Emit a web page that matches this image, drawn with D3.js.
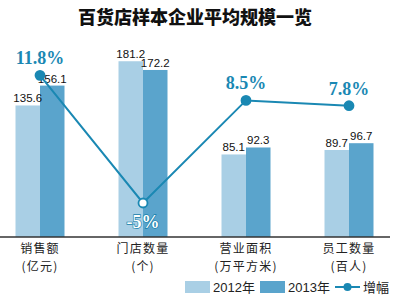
<!DOCTYPE html>
<meta charset="utf-8">
<head>
<script src="https://cdn.jsdelivr.net/npm/d3@7"></script>
<style>
body { margin: 0; background: #fff; }
svg { display: block; }
.val { font: 11.5px "Liberation Sans", Arial, sans-serif; fill: #111; }
.pct { font: bold 18px "Liberation Serif", "Times New Roman", serif; fill: #1a8ab5; }
.cat { font: 12px "Noto Sans CJK SC", sans-serif; fill: #222; letter-spacing: 1.2px; }
.leg { font: 13px "Liberation Sans", "Noto Sans CJK SC", sans-serif; fill: #222; }
</style>
</head>
<body>
<script>
// chart values
var categories = ["销售额", "门店数量", "营业面积", "员工数量"];
var units = ["(亿元)", "(个)", "(万平方米)", "(百人)"];
var years = ["2012年", "2013年"];
var v2012 = [135.6, 181.2, 85.1, 89.7];
var v2013 = [156.1, 172.2, 92.3, 96.7];
var growth = [11.8, -5, 8.5, 7.8];
var growthLabels = ["11.8%", "-5%", "8.5%", "7.8%"];

var width = 394, height = 299;
var colors = {"2012年": "#a9cfe5", "2013年": "#5aa4cc"};
var lineColor = "#1a88b3";

var svg = d3.select("body").append("svg")
    .attr("width", width)
    .attr("height", height);

var x = d3.scalePoint().domain(categories).range([40, 349]);
var xs = d3.scaleBand().domain(years).range([-24.5, 24.5]);
var y = d3.scaleLinear().domain([0, 200]).range([237, 43]);
var y2 = d3.scaleLinear().domain([0, 10]).range([165, 89]);

// title
svg.append("text")
    .attr("x", 195).attr("y", 24)
    .attr("text-anchor", "middle")
    .style("font", "900 18px 'Noto Sans CJK SC', sans-serif")
    .style("fill", "#111")
    .text("百货店样本企业平均规模一览");

var rows = categories.map(function(c, i) {
  return {cat: c, unit: units[i], vals: [{year: years[0], v: v2012[i]}, {year: years[1], v: v2013[i]}],
          g: growth[i], gl: growthLabels[i]};
});

var groups = svg.selectAll("g.grp")
  .data(rows)
  .enter().append("g")
    .attr("class", "grp")
    .attr("transform", function(d) { return "translate(" + x(d.cat) + ",0)"; });

groups.selectAll("rect")
  .data(function(d) { return d.vals; })
  .enter().append("rect")
    .attr("x", function(d) { return xs(d.year); })
    .attr("width", xs.bandwidth())
    .attr("y", function(d) { return y(d.v); })
    .attr("height", function(d) { return y(0) - y(d.v); })
    .attr("fill", function(d) { return colors[d.year]; });

// axis baseline
svg.append("line")
    .attr("x1", 0).attr("x2", 390)
    .attr("y1", y(0)).attr("y2", y(0))
    .attr("stroke", "#333").attr("stroke-width", 1.6);

// category labels
groups.append("text")
    .attr("class", "cat")
    .attr("text-anchor", "middle")
    .attr("y", 253)
    .text(function(d) { return d.cat; });
groups.append("text")
    .attr("class", "cat")
    .attr("text-anchor", "middle")
    .attr("y", 271)
    .text(function(d) { return d.unit; });

// growth line
var line = d3.line()
    .x(function(d) { return x(d.cat); })
    .y(function(d) { return y2(d.g); });

svg.append("path")
    .datum(rows)
    .attr("d", line)
    .attr("fill", "none")
    .attr("stroke", lineColor)
    .attr("stroke-width", 2);

// value labels (on top of line)
groups.selectAll("text.val")
  .data(function(d) { return d.vals; })
  .enter().append("text")
    .attr("class", "val")
    .attr("text-anchor", "middle")
    .attr("x", function(d) { return xs(d.year) + xs.bandwidth() / 2; })
    .attr("y", function(d) { return y(d.v) - 3; })
    .text(function(d) { return d.v.toFixed(1); });

svg.selectAll("circle.pt")
  .data(rows)
  .enter().append("circle")
    .attr("class", "pt")
    .attr("cx", function(d) { return x(d.cat); })
    .attr("cy", function(d) { return y2(d.g); })
    .attr("r", 4.5)
    .attr("fill", function(d) { return d.g < 0 ? "#fff" : lineColor; })
    .attr("stroke", lineColor)
    .attr("stroke-width", 1.8);

svg.selectAll("text.pct")
  .data(rows)
  .enter().append("text")
    .attr("class", "pct")
    .attr("text-anchor", "middle")
    .attr("x", function(d) { return x(d.cat); })
    .attr("y", function(d) { return d.g < 0 ? y2(d.g) + 25 : y2(d.g) - 11; })
    .style("fill", function(d) { return d.g < 0 ? "#fff" : lineColor; })
    .style("stroke", function(d) { return d.g < 0 ? "#1580aa" : "none"; })
    .style("stroke-width", 1.3)
    .style("paint-order", "stroke")
    .text(function(d) { return d.gl; });

// legend
var leg = svg.append("g").attr("transform", "translate(0,287)");
years.forEach(function(yr, i) {
  var lx = 185 + i * 75;
  leg.append("rect")
      .attr("x", lx).attr("y", -6)
      .attr("width", 25).attr("height", 12)
      .attr("fill", colors[yr]);
  leg.append("text")
      .attr("class", "leg")
      .attr("x", lx + 28).attr("y", 5)
      .text(yr);
});
leg.append("line")
    .attr("x1", 335).attr("x2", 360)
    .attr("y1", 0).attr("y2", 0)
    .attr("stroke", lineColor).attr("stroke-width", 2);
leg.append("circle")
    .attr("cx", 347.5).attr("cy", 0).attr("r", 4)
    .attr("fill", lineColor);
leg.append("text")
    .attr("class", "leg")
    .attr("x", 363).attr("y", 5)
    .text("增幅");
</script>
</body>
